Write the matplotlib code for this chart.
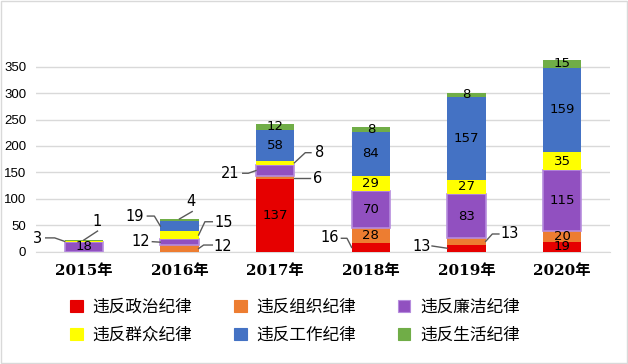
import matplotlib
matplotlib.use("Agg")
import matplotlib.pyplot as plt
from matplotlib.patches import Rectangle, Patch
from matplotlib.transforms import IdentityTransform
import numpy as np

years = ["2015年", "2016年", "2017年", "2018年", "2019年", "2020年"]
series_names = ["违反政治纪律", "违反组织纪律", "违反廉洁纪律", "违反群众纪律", "违反工作纪律", "违反生活纪律"]
politics = [0, 0, 137, 16, 13, 19]
organization = [0, 12, 6, 28, 13, 20]
integrity = [18, 12, 21, 70, 83, 115]
masses = [3, 15, 8, 29, 27, 35]
work = [0, 19, 58, 84, 157, 159]
life = [1, 4, 12, 8, 8, 15]
yticks = [0, 50, 100, 150, 200, 250, 300, 350]

values = [politics, organization, integrity, masses, work, life]
colors = ["#E60000", "#ED7D31", "#9150C0", "#FFFF00", "#4472C4", "#70AD47"]
edges = [None, None, "#B68CDD", None, None, None]

W, H = 628, 364
fig = plt.figure(figsize=(W / 100, H / 100), dpi=100)
fig.patches.append(Rectangle((0.0008, 0.0014), 0.9984, 0.997, transform=fig.transFigure,
                             fill=False, edgecolor="#D9D9D9", linewidth=1))
ax = fig.add_axes([0.0573, 0.3085, 0.9140, 0.5519])

x = np.arange(len(years))
bw = 0.4
bottom = np.zeros(len(years))
for i, (vals, c) in enumerate(zip(values, colors)):
    v = np.array(vals, dtype=float)
    if edges[i]:
        ax.bar(x, v, bw, bottom=bottom, color=c, edgecolor=edges[i], linewidth=1.2, zorder=3)
    else:
        ax.bar(x, v, bw, bottom=bottom, color=c, linewidth=0, zorder=3)
    bottom += v

ax.set_xlim(-0.5, 5.5)
ax.set_ylim(0, 380)
ax.set_yticks(yticks)
ax.set_yticklabels([str(t) for t in yticks], fontsize=9.5, family="Liberation Sans")
ax.yaxis.grid(True, color="#D9D9D9", linewidth=1, zorder=0)
ax.set_axisbelow(True)
ax.tick_params(axis="both", length=0)
ax.tick_params(axis="y", pad=7)
ax.set_xticks(x)
ax.set_xticklabels(years, fontsize=11, fontweight="bold",
                   family=["DejaVu Serif", "Noto Sans CJK SC"])
ax.tick_params(axis="x", pad=9)
for s in ["top", "right", "left"]:
    ax.spines[s].set_visible(False)
ax.spines["bottom"].set_color("#D9D9D9")

# callouts: (year, series) -> (side, leader points (px offsets, y down), text offset)
callouts = {
    (0, 3): ("left", [(-19, -3.5), (-10, -3.5)], (-27, -2.5)),
    (0, 5): ("top", [(13.7, -9)], (13, -19)),
    (1, 4): ("left", [(-13, -10), (-6, -10)], (-26, -10)),
    (1, 2): ("left", [(-8, -0.5)], (-19.5, -1)),
    (1, 5): ("top", [(12.7, -7.4)], (11, -17)),
    (1, 3): ("right", [(13.7, -13.3), (6.3, -13.3)], (25, -13)),
    (1, 1): ("right", [(13.7, -3.5), (5, -3.5)], (24, -2.5)),
    (2, 3): ("right", [(16.7, -10.2), (11, -10.2)], (25, -10)),
    (2, 2): ("left", [(-13.3, 2.7), (-7.7, 2.7)], (-26, 3)),
    (2, 1): ("right", [(16, 0)], (23, 1)),
    (3, 0): ("left", [(-10.3, -9.2), (-4.7, -9.2)], (-22, -9.5)),
    (4, 0): ("left", [(-15.3, -2.3)], (-26, -2)),
    (4, 1): ("right", [(13.3, -7.4), (6.7, -7.4)], (24, -7.5)),
}

fig.canvas.draw()
to_disp = ax.transData.transform
cum = np.zeros(len(years))
for si, vals in enumerate(values):
    for yi, v in enumerate(vals):
        b = cum[yi]
        if v > 0:
            key = (yi, si)
            if key in callouts:
                side, pts, toff = callouts[key]
                if side == "left":
                    ax_x, ax_y = x[yi] - bw / 2, b + v / 2
                elif side == "right":
                    ax_x, ax_y = x[yi] + bw / 2, b + v / 2
                else:
                    ax_x, ax_y = x[yi], b + v
                dx0, dy0 = to_disp((ax_x, ax_y))
                line = [(dx0 + px, dy0 - py) for px, py in pts] + [(dx0, dy0)]
                lx = [p[0] for p in line]
                ly = [p[1] for p in line]
                ax.add_line(plt.Line2D(lx, ly, transform=IdentityTransform(),
                                       color="#595959", linewidth=1, zorder=4))
                fig.text(dx0 + toff[0], dy0 - toff[1], str(v), transform=IdentityTransform(),
                         ha="center", va="center", fontsize=10.5, family="DejaVu Sans",
                         color="black")
            else:
                ax.text(x[yi], b + v / 2, str(v), ha="center", va="center",
                        fontsize=9.5, family="DejaVu Sans", color="black", zorder=5)
        cum[yi] += v

handles = [Patch(facecolor=c, edgecolor=(e if e else c), linewidth=0.8) for c, e in zip(colors, edges)]
order = [0, 3, 1, 4, 2, 5]
leg = fig.legend([handles[i] for i in order], [series_names[i] for i in order],
                 ncol=3, loc="center", bbox_to_anchor=(0.47, 0.117), frameon=False,
                 prop={"family": ["Noto Sans CJK SC", "DejaVu Sans"], "size": 12},
                 handlelength=0.75, handleheight=0.75, handletextpad=0.6,
                 columnspacing=2.5, labelspacing=0.63)

fig.savefig("out.png", dpi=100)
